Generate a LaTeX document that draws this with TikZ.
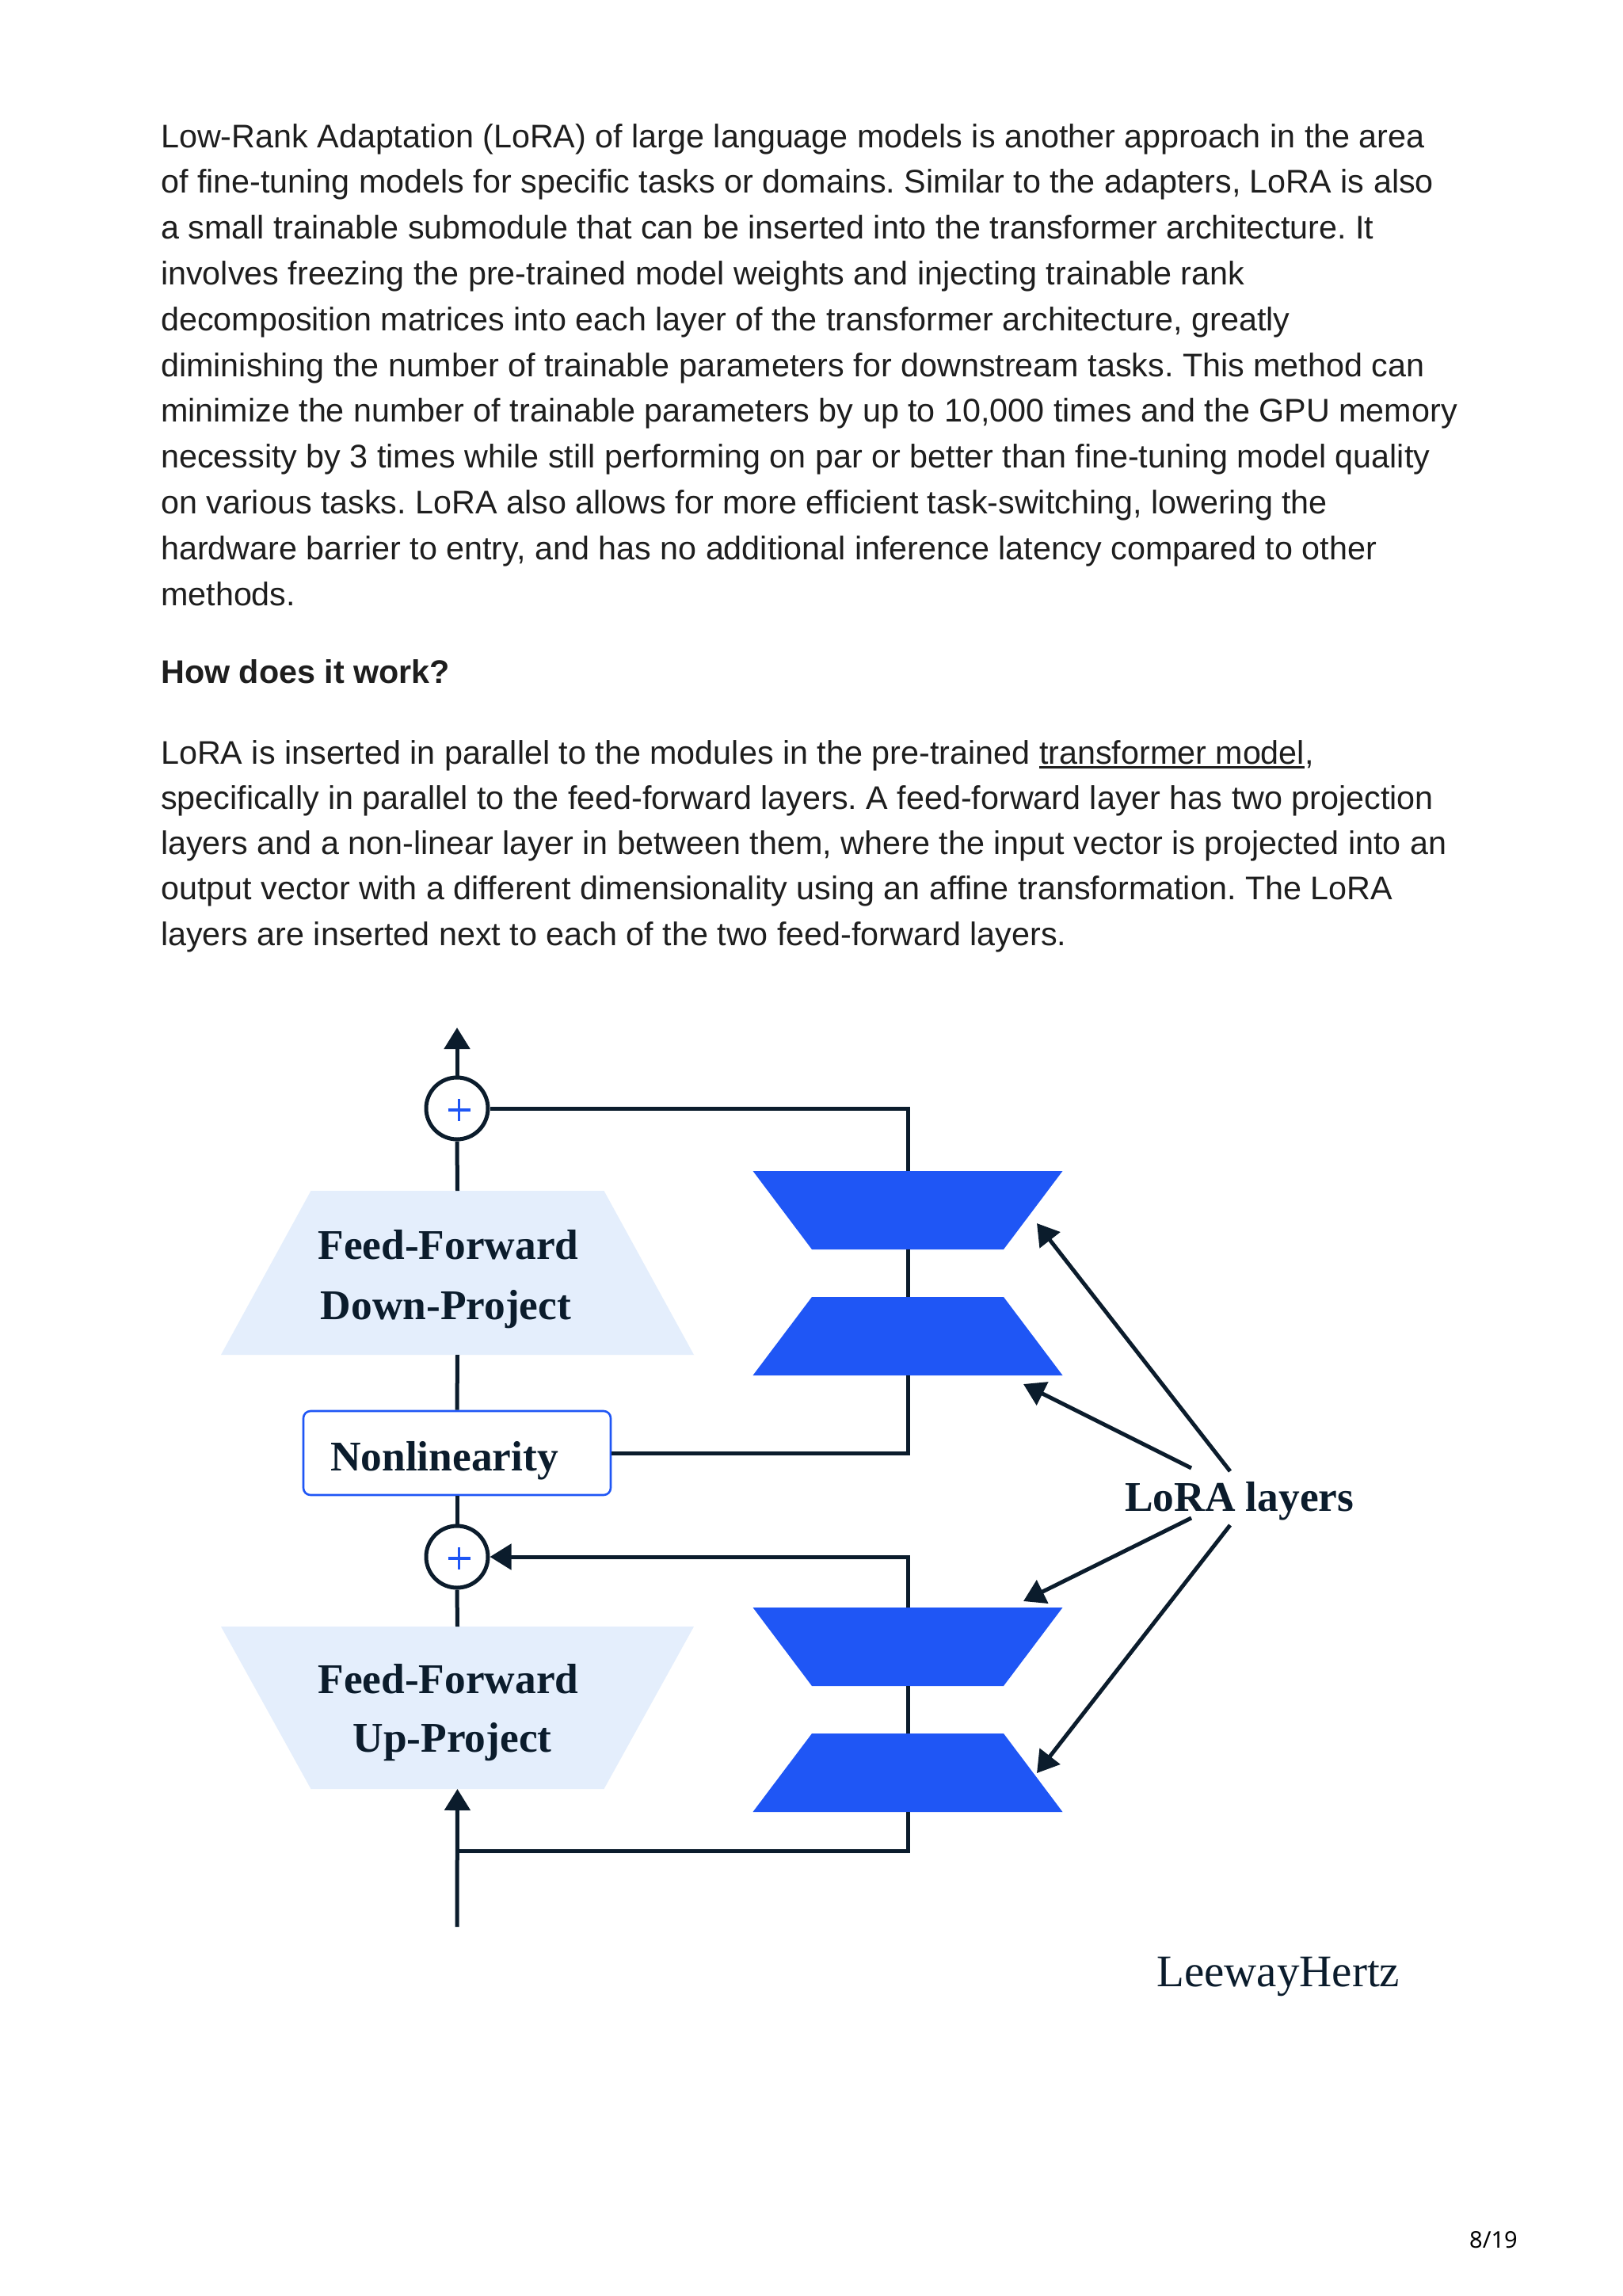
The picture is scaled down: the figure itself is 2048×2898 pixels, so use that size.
\documentclass[tikz,border=0pt]{standalone}
\usepackage{fontspec}
\setmainfont{Liberation Serif}
\setsansfont{Liberation Sans}
\newfontfamily\pagefont{Noto Sans}
\usetikzlibrary{arrows.meta,calc}
\definecolor{ink}{HTML}{0B1C2C}
\definecolor{lblue}{HTML}{E4EEFC}
\definecolor{lorablue}{HTML}{1F56F5}
\definecolor{bodytext}{HTML}{1E1E1E}
\newcommand\myul[1]{\setbox0\hbox{#1}\rlap{\rule[-6pt]{\wd0}{2.6pt}}\box0}
\frenchspacing
\begin{document}
\begin{tikzpicture}[x=1pt,y=-1pt,
  body/.style={anchor=base west,inner sep=0pt,font=\sffamily\fontsize{41.3}{50}\selectfont,text=bodytext},
  diag/.style={anchor=base,inner sep=0pt,font=\fontsize{53.4}{60}\selectfont\bfseries,text=ink},
  conn/.style={draw=ink,line width=5pt},
  arr/.style={conn,-{Triangle[width=32pt,length=27pt]}},
  addnode/.style={circle,draw=ink,line width=5pt,minimum size=78pt,inner sep=0pt,fill=white},
  blockbox/.style={rectangle,inner sep=0pt,outer sep=0pt,draw=none},
  plussign/.style={draw=lorablue,line width=3.2pt}
]
\useasboundingbox[fill=white] (0,0) rectangle (2048,2898);

% ---------- paragraph 1 ----------
\node[body] (p1a) at (203,186.0) {Low-Rank Adaptation (LoRA) of large language models is another approach in the area};
\node[body] (p1b) at (203,243.8) {of fine-tuning models for specific tasks or domains. Similar to the adapters, LoRA is also};
\node[body] (p1c) at (203,301.6) {a small trainable submodule that can be inserted into the transformer architecture. It};
\node[body] (p1d) at (203,359.4) {involves freezing the pre-trained model weights and injecting trainable rank};
\node[body] (p1e) at (203,417.2) {decomposition matrices into each layer of the transformer architecture, greatly};
\node[body] (p1f) at (203,475.0) {diminishing the number of trainable parameters for downstream tasks. This method can};
\node[body] (p1g) at (203,532.8) {minimize the number of trainable parameters by up to 10,000 times and the GPU memory};
\node[body] (p1h) at (203,590.6) {necessity by 3 times while still performing on par or better than fine-tuning model quality};
\node[body] (p1i) at (203,648.4) {on various tasks. LoRA also allows for more efficient task-switching, lowering the};
\node[body] (p1j) at (203,706.2) {hardware barrier to entry, and has no additional inference latency compared to other};
\node[body] (p1k) at (203,764.0) {methods.};

% ---------- heading ----------
\node[body,font=\sffamily\bfseries\fontsize{41.3}{50}\selectfont] (head) at (203,862) {How does it work?};

% ---------- paragraph 2 ----------
\node[body] (p2a) at (203,964.0) {LoRA is inserted in parallel to the modules in the pre-trained \myul{transformer model},};
\node[body] (p2b) at (203,1021.3) {specifically in parallel to the feed-forward layers. A feed-forward layer has two projection};
\node[body] (p2c) at (203,1078.6) {layers and a non-linear layer in between them, where the input vector is projected into an};
\node[body] (p2d) at (203,1135.9) {output vector with a different dimensionality using an affine transformation. The LoRA};
\node[body] (p2e) at (203,1193.2) {layers are inserted next to each of the two feed-forward layers.};

% ---------- block placeholders ----------
\node[blockbox,minimum width=597pt,minimum height=207pt] (ffd) at (577.5,1606.5) {};
\node[blockbox,minimum width=597pt,minimum height=205pt] (ffu) at (577.5,2155.5) {};
\node[blockbox,minimum width=391pt,minimum height=99pt] (la) at (1146,1527.5) {};
\node[blockbox,minimum width=391pt,minimum height=99pt] (lb) at (1146,1686.5) {};
\node[blockbox,minimum width=391pt,minimum height=99pt] (lc) at (1146,2078.5) {};
\node[blockbox,minimum width=391pt,minimum height=99pt] (ld) at (1146,2237.5) {};

% feed-forward trapezoids
\fill[lblue] (ffd.south west) -- (ffd.south east) -- ($(ffd.north east)+(-113.5,0)$) -- ($(ffd.north west)+(113.5,0)$) -- cycle;
\fill[lblue] (ffu.north west) -- (ffu.north east) -- ($(ffu.south east)+(-113.5,0)$) -- ($(ffu.south west)+(113.5,0)$) -- cycle;
% LoRA trapezoids
\fill[lorablue] (la.north west) -- (la.north east) -- ($(la.south east)+(-74.5,0)$) -- ($(la.south west)+(74.5,0)$) -- cycle;
\fill[lorablue] (lb.south west) -- (lb.south east) -- ($(lb.north east)+(-74.5,0)$) -- ($(lb.north west)+(74.5,0)$) -- cycle;
\fill[lorablue] (lc.north west) -- (lc.north east) -- ($(lc.south east)+(-74.5,0)$) -- ($(lc.south west)+(74.5,0)$) -- cycle;
\fill[lorablue] (ld.south west) -- (ld.south east) -- ($(ld.north east)+(-74.5,0)$) -- ($(ld.north west)+(74.5,0)$) -- cycle;

% nonlinearity box
\node[rectangle,draw=lorablue,line width=2.6pt,rounded corners=9pt,fill=white,minimum width=388pt,minimum height=106pt,inner sep=0pt] (nl) at (577,1834) {};

% adders
\node[addnode] (add1) at (577,1399) {};
\node[addnode] (add2) at (577,1965) {};
\draw[plussign] ($(add1)+(-11.5,2)$) -- ($(add1)+(16.5,2)$) ($(add1)+(2.5,-12)$) -- ($(add1)+(2.5,16)$);
\draw[plussign] ($(add2)+(-11.5,2)$) -- ($(add2)+(16.5,2)$) ($(add2)+(2.5,-12)$) -- ($(add2)+(2.5,16)$);

% coordinates
\coordinate (outtip) at (577,1297);
\coordinate (inbase) at (577,2432);
\coordinate (split) at (577,2336);

% main column connectors
\draw[arr] (add1.north) -- (outtip);
\draw[conn] (add1.south) -- (ffd.north);
\draw[conn] (ffd.south) -- (nl.north);
\draw[conn] (nl.south) -- (add2.north);
\draw[conn] (add2.south) -- (ffu.north);
\draw[arr] (inbase) -- (ffu.south);

% LoRA branch (top)
\draw[conn] (nl.east) -| (lb.south);
\draw[conn] (lb.north) -- (la.south);
\draw[conn] (la.north) |- (add1.east);

% LoRA branch (bottom)
\draw[conn] (split) -| (ld.south);
\draw[conn] (ld.north) -- (lc.south);
\draw[arr] (lc.north) |- (add2.east);

% diagram texts
\node[diag] (ffdA) at (566,1589) {Feed-Forward};
\node[diag] (ffdB) at (563,1665) {Down-Project};
\node[diag] (ffuA) at (566,2137) {Feed-Forward};
\node[diag] (ffuB) at (571,2211) {Up-Project};
\node[diag,anchor=base west] (nltext) at (417,1856) {Nonlinearity};
\node[diag,anchor=base west] (loralabel) at (1420,1907) {LoRA layers};
\node[anchor=base west,inner sep=0pt,font=\fontsize{57}{60}\selectfont,text=ink] (brand) at (1460,2507) {LeewayHertz};

% label arrows
\coordinate (s1) at (1553,1857);
\coordinate (s2) at (1504,1853);
\coordinate (s3) at (1504,1916);
\coordinate (s4) at (1553,1925);
\coordinate (t1) at (1309,1544);
\coordinate (t2) at (1292,1747);
\coordinate (t3) at (1292,2021);
\coordinate (t4) at (1309,2238);
\draw[arr] (s1) -- (t1);
\draw[arr] (s2) -- (t2);
\draw[arr] (s3) -- (t3);
\draw[arr] (s4) -- (t4);

% page number
\node[anchor=base west,inner sep=0pt,font=\pagefont\fontsize{29}{30}\selectfont,text=black] (pagenum) at (1855,2837) {8/19};
\end{tikzpicture}
\end{document}
